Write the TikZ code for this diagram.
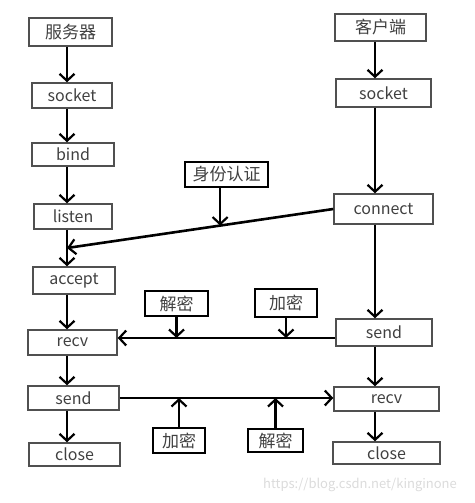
\documentclass[tikz,border=0pt]{standalone}
\usepackage{fontspec}
\usepackage{tikz}
\usetikzlibrary{arrows.meta,calc}
\newfontfamily\cjk{Noto Sans CJK SC}
\definecolor{boxline}{HTML}{505050}
\definecolor{boxtext}{HTML}{404040}

\tikzset{
  box/.style={draw=boxline, line width=1.4pt, inner sep=0pt, text=boxtext,
    font=\cjk\fontsize{16}{16}\selectfont},
  tag/.style={draw=black, line width=2pt, inner sep=0pt, text=boxtext,
    font=\cjk\fontsize{17}{17}\selectfont},
  flow/.style={line width=2.6pt, -{Straight Barb[length=7pt,width=15pt,line width=2.2pt]}}
}

\begin{document}
\begin{tikzpicture}[x=1pt, y=-1pt]
	\useasboundingbox (0,0) rectangle (474,503);
	% server side
	\node[box, minimum width=83, minimum height=28, font=\cjk\fontsize{17}{17}\selectfont] (srv) at (70.5,32) {服务器};
	\node[box, minimum width=80, minimum height=25] (lsock) at (72,95.5) {socket};
	\node[box, minimum width=82, minimum height=23] (lbind) at (73,154.5) {bind};
	\node[box, minimum width=78, minimum height=25] (llisten) at (73,216.5) {listen};
	\node[box, minimum width=82, minimum height=27] (laccept) at (74,280.5) {accept};
	\node[box, minimum width=89, minimum height=25] (lrecv) at (72.5,342.5) {recv};
	\node[box, minimum width=91, minimum height=24] (lsend) at (73.5,398) {send};
	\node[box, minimum width=91, minimum height=23] (lclose) at (74.5,454.5) {close};
	% client side
	\node[box, minimum width=91, minimum height=27, font=\cjk\fontsize{17}{17}\selectfont] (cli) at (380.5,27.5) {客户端};
	\node[box, minimum width=95, minimum height=28] (rsock) at (383.5,93) {socket};
	\node[box, minimum width=99, minimum height=30] (rconn) at (383.5,209) {connect};
	\node[box, minimum width=96, minimum height=27] (rsend) at (384,332.5) {send};
	\node[box, minimum width=105, minimum height=24] (rrecv) at (386.5,399) {recv};
	\node[box, minimum width=107, minimum height=22] (rclose) at (386.5,453) {close};
	% steps in between
	\node[tag, minimum width=83, minimum height=25] (auth) at (226.5,174.5) {身份认证};
	\node[tag, minimum width=63, minimum height=25] (dec1) at (176.5,303.5) {解密};
	\node[tag, minimum width=62, minimum height=28] (enc1) at (286,303) {加密};
	\node[tag, minimum width=52, minimum height=25] (enc2) at (179,440.5) {加密};
	\node[tag, minimum width=55, minimum height=23] (dec2) at (275.5,440.5) {解密};
	\node[text=black!14, font=\cjk\fontsize{13}{13}\selectfont] (mark) at (360,485) {https://blog.csdn.net/kinginone};

	\coordinate (lcol) at (67,0);
	\coordinate (rcol) at (375,0);
	\coordinate (lin) at ($(llisten.south)!.5!(laccept.north)$);
	\coordinate (m1) at (0,338);

	\foreach \a/\b in {srv/lsock, lsock/lbind, lbind/llisten, llisten/laccept,
		laccept/lrecv, lrecv/lsend, lsend/lclose}
		\draw[flow] (\a.south -| lcol) -- (\b.north -| lcol);
	\foreach \a/\b in {cli/rsock, rsock/rconn, rconn/rsend, rsend/rrecv, rrecv/rclose}
		\draw[flow] (\a.south -| rcol) -- (\b.north -| rcol);

	% connect and check
	\draw[flow] (rconn.west) -- coordinate[pos=0.425] (authpt) (lin -| lcol);
	\draw[flow] (auth.south -| authpt) -- (authpt);
	% client sends, server receives
	\draw[flow] (rsend.west |- m1) -- (lrecv.east |- m1);
	\draw[flow] (dec1.south) -- (dec1.south |- m1);
	\draw[flow] (enc1.south) -- (enc1.south |- m1);
	% server sends, client receives
	\draw[flow] (lsend.east) -- (lsend.east -| rrecv.west);
	\draw[flow] (enc2.north) -- (enc2.north |- lsend.east);
	\draw[flow] (dec2.north) -- (dec2.north |- lsend.east);
\end{tikzpicture}
\end{document}
